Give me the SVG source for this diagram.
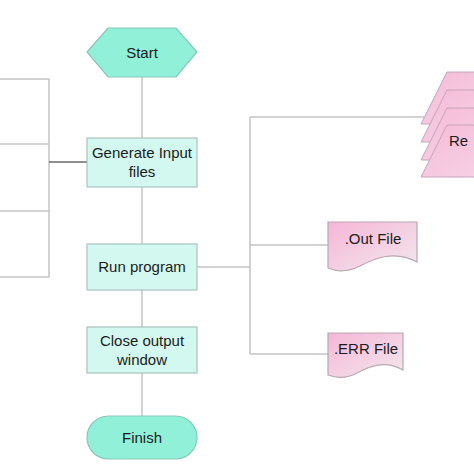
<svg xmlns="http://www.w3.org/2000/svg" width="474" height="474" viewBox="0 0 474 474">
<defs>
<linearGradient id="pink" x1="0" y1="0" x2="1" y2="1">
<stop offset="0" stop-color="#f5b6d6"/>
<stop offset="1" stop-color="#f3e8ee"/>
</linearGradient>
<linearGradient id="pink2" x1="0" y1="0" x2="1" y2="1">
<stop offset="0" stop-color="#f5bcd9"/>
<stop offset="1" stop-color="#f7d6e8"/>
</linearGradient>
<style>
.ln{fill:none;stroke:#c4c4c4;stroke-width:1.5}
.dk{fill:none;stroke:#6a6a6a;stroke-width:1.5}
.proc{fill:#d3f8ef;stroke:#a8c4bc;stroke-width:1.2}
.term{fill:#90f0d8;stroke:#88c8b8;stroke-width:1.2}
.doc{fill:url(#pink);stroke:#b8a8b0;stroke-width:1.2}
.stk{fill:url(#pink2);stroke:#c8a4b8;stroke-width:1}
text{font-family:"Liberation Sans",Arial,sans-serif;font-size:15px;fill:#1c1c1c;text-anchor:middle}
</style>
</defs>
<rect width="474" height="474" fill="#ffffff"/>
<g id="connectors">
<line class="ln" x1="142" y1="77" x2="142" y2="416"/>
<path class="ln" d="M0,79 H49 V277 H0 M0,144 H49 M0,211 H49"/>
<line class="dk" x1="49" y1="162" x2="87" y2="162"/>
<path class="ln" d="M197,267 H250 M250,117 V354 M250,117 H424 M250,245 H328 M250,354 H328"/>
</g>
<g id="start">
<polygon class="term" points="87,52 108,28 176,28 197,52 176,77 108,77"/>
<text x="142" y="58">Start</text>
</g>
<g id="generate">
<rect class="proc" x="87" y="138" width="110" height="49"/>
<text x="142" y="158">Generate Input</text>
<text x="142" y="177">files</text>
</g>
<g id="run">
<rect class="proc" x="87" y="244" width="110" height="46"/>
<text x="142" y="272">Run program</text>
</g>
<g id="close">
<rect class="proc" x="87" y="327" width="110" height="46"/>
<text x="142" y="346">Close output</text>
<text x="142" y="365">window</text>
</g>
<g id="finish">
<rect class="term" x="87" y="416" width="110" height="43" rx="21.5"/>
<text x="142" y="443">Finish</text>
</g>
<g id="results">
<polygon class="stk" points="447,72 530,72 504,124 421,124"/>
<polygon class="stk" points="447,90 530,90 504,142 421,142"/>
<polygon class="stk" points="447,108 530,108 504,160 421,160"/>
<polygon class="stk" points="447,125 530,125 504,177 421,177"/>
<text x="449" y="146" style="text-anchor:start">Re</text>
</g>
<g id="outfile">
<path class="doc" d="M328,222 H417 V262 C395,250 375,258 360,266 C348,272 337,272 328,268 Z"/>
<text x="373" y="244">.Out File</text>
</g>
<g id="errfile">
<path class="doc" d="M328,333 H403 V370 C385,360 370,366 357,373 C346,379 336,378 328,375 Z"/>
<text x="366" y="354">.ERR File</text>
</g>
</svg>
